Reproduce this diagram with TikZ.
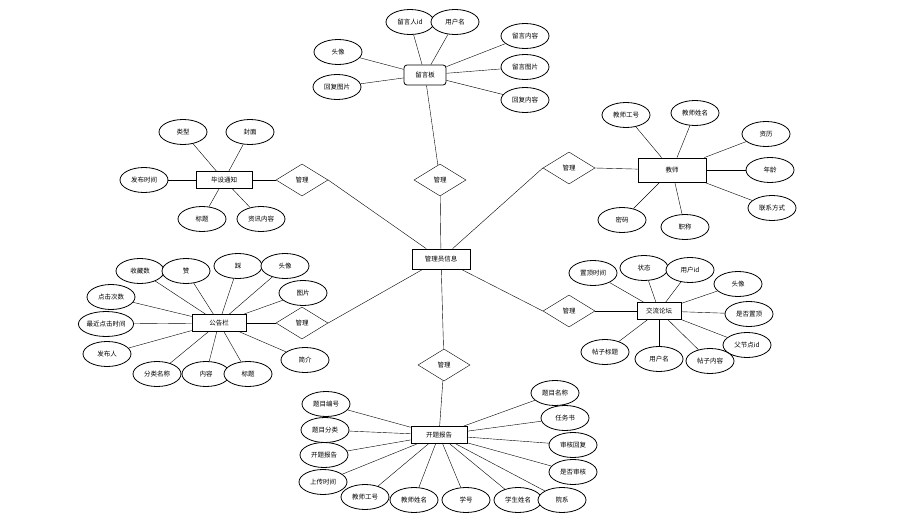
\documentclass[tikz,border=0pt]{standalone}
\usepackage{fontspec}
\setmainfont{Noto Sans CJK SC}
\usetikzlibrary{shapes.geometric}
\begin{document}
\begin{tikzpicture}[x=1pt,y=-1pt,
  every node/.style={font=\fontsize{6.5}{7}\selectfont},
  attr/.style={ellipse,draw,thick,minimum width=48pt,minimum height=25pt,inner sep=0pt,fill=white},
  en/.style={rectangle,draw,thick,minimum width=#1,minimum height=17pt,inner sep=1pt,fill=white},
  rel/.style={diamond,draw,aspect=1.6,minimum width=52pt,minimum height=32pt,inner sep=0pt,fill=white}]
\useasboundingbox (0,0) rectangle (906,522);
% entities
\node[en=42pt,rounded corners=3pt,minimum height=20pt] (ly) at (425,75) {留言板};
\node[en=58pt,minimum height=20pt] (adm) at (441,259) {管理员信息};
\node[en=56pt] (bs) at (224,180) {毕设通知};
\node[en=54pt] (gg) at (219,323) {公告栏};
\node[en=68pt,minimum height=24pt] (js) at (672,170) {教师};
\node[en=44pt] (lt) at (659,311) {交流论坛};
\node[en=56pt] (kt) at (439,435) {开题报告};
% relations
\node[rel] (r1) at (440,180) {管理};
\node[rel] (r2) at (302,180) {管理};
\node[rel] (r3) at (302,323) {管理};
\node[rel] (r4) at (569,168) {管理};
\node[rel] (r5) at (569,311) {管理};
\node[rel] (r6) at (444,365) {管理};
% attributes
\foreach \n/\x/\y/\t in {a1/410/22/留言人id,a2/455/22/用户名,a3/525/36/留言内容,a4/525/67/留言图片,a5/525/100/回复内容,a6/338/52/头像,a7/337/87/回复图片}
  {\node[attr] (\n) at (\x,\y) {\t}; \draw (ly) -- (\n);}
\foreach \n/\x/\y/\t in {b1/183/132/类型,b2/250/132/封面,b3/144/180/发布时间,b4/202/219/标题,b5/261/219/资讯内容}
  {\node[attr] (\n) at (\x,\y) {\t}; \draw (bs) -- (\n);}
\foreach \n/\x/\y/\t in {c1/140/271/收藏数,c2/186/271/赞,c3/238/266/踩,c4/285/266/头像,c5/303/293/图片,c6/111/297/点击次数,c7/106/324/最近点击时间,c8/107/354/发布人,c9/157/374/分类名称,c10/206/374/内容,c11/248/374/标题,c12/305/360/简介}
  {\node[attr] (\n) at (\x,\y) {\t}; \draw (gg) -- (\n);}
\foreach \n/\x/\y/\t in {d1/626/115/教师工号,d2/695/113/教师姓名,d3/766/134/资历,d4/770/170/年龄,d5/772/208/联系方式,d6/622/220/密码,d7/685/227/职称}
  {\node[attr] (\n) at (\x,\y) {\t}; \draw (js) -- (\n);}
\foreach \n/\x/\y/\t in {e1/593/273/置顶时间,e2/644/268/状态,e3/690/270/用户id,e4/738/284/头像,e5/749/314/是否置顶,e6/747/345/父节点id,e7/710/361/帖子内容,e8/659/359/用户名,e9/605/352/帖子标题}
  {\node[attr] (\n) at (\x,\y) {\t}; \draw (lt) -- (\n);}
\foreach \n/\x/\y/\t in {f1/326/404/题目编号,f2/325/430/题目分类,f3/324/455/开题报告,f4/323/482/上传时间,f5/365/497/教师工号,f6/414/500/教师姓名,f7/466/500/学号,f8/518/500/学生姓名,f9/562/500/院系,f10/573/472/是否审核,f11/573/445/审核回复,f12/565/418/任务书,f13/555/393/题目名称}
  {\node[attr] (\n) at (\x,\y) {\t}; \draw (kt) -- (\n);}
% relation links
\draw (ly) -- (r1) -- (adm);
\draw (bs) -- (r2.west); \draw (r2.east) -- (adm);
\draw (gg) -- (r3.west); \draw (r3.east) -- (adm);
\draw (js) -- (r4.east); \draw (r4.west) -- (adm);
\draw (lt) -- (r5.east); \draw (r5.west) -- (adm);
\draw (kt) -- (r6) -- (adm);
\end{tikzpicture}
\end{document}
